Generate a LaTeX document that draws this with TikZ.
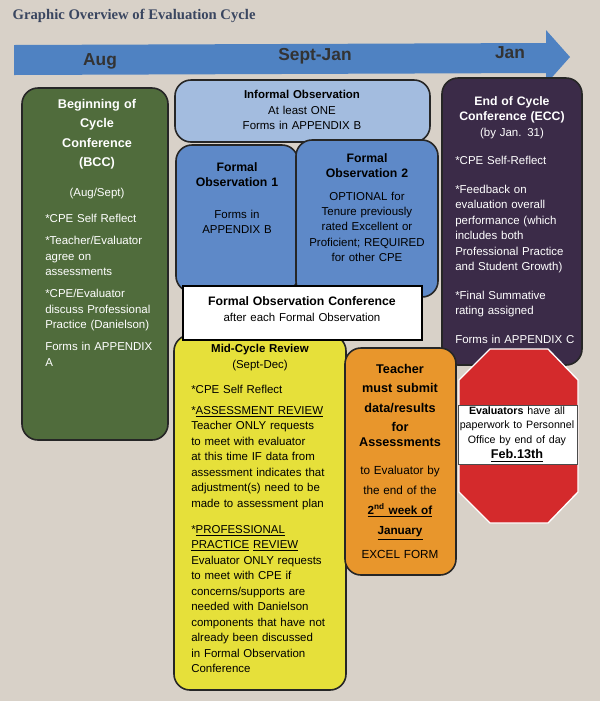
\documentclass[tikz,border=0pt]{standalone}
\usepackage{fontspec}
\setmainfont{Liberation Sans}
\newfontfamily\titlefont{Liberation Serif}
\usetikzlibrary{shapes.geometric}
\hyphenpenalty=10000 \exhyphenpenalty=10000
\definecolor{bg}{HTML}{D8D1C8}
\definecolor{arrowc}{HTML}{4F82C2}
\definecolor{bccg}{HTML}{506C3C}
\definecolor{infb}{HTML}{A3BCDF}
\definecolor{formb}{HTML}{5E89C8}
\definecolor{eccp}{HTML}{3B2B48}
\definecolor{midy}{HTML}{E6E03A}
\definecolor{orng}{HTML}{E8962C}
\definecolor{stopr}{HTML}{D42A2C}
\definecolor{titlec}{HTML}{3A4660}
\tikzset{
  box/.style={draw=black!85, line width=1.2pt, rounded corners=12pt},
  txt/.style={font=\fontsize{8.6}{11.6}\selectfont, align=left, text width=#1, inner sep=0pt},
  ctxt/.style={font=\fontsize{8.6}{11.6}\selectfont, align=center, text width=#1, inner sep=0pt},
}
\begin{document}
\begin{tikzpicture}[x=0.75pt,y=-0.75pt]
\fill[bg] (0,0) rectangle (600,701);
\useasboundingbox (0,0) rectangle (600,701);
\node[anchor=west, text=titlec, font=\titlefont\bfseries\fontsize{11}{13}\selectfont] (title) at (8,16) {Graphic Overview of Evaluation Cycle};
% arrow
\fill[arrowc] (14,45) -- (546,43) -- (546,30) -- (570,57) -- (546,84) -- (546,73) -- (14,75) -- cycle;
\node[font=\bfseries\fontsize{13}{15}\selectfont, text=black!80] (aug) at (100,61) {Aug};
\node[font=\bfseries\fontsize{13}{15}\selectfont, text=black!80] (sj) at (315,56) {Sept-Jan};
\node[font=\bfseries\fontsize{13}{15}\selectfont, text=black!80] (jan) at (510,53) {Jan};
% BCC
\draw[box, fill=bccg] (22,88) rectangle (168,440);
\node[ctxt=90pt, text=white, font=\bfseries\fontsize{9.5}{14.5}\selectfont, anchor=north] (bcct) at (97,99) {Beginning of\\Cycle\\Conference\\(BCC)};
\node[ctxt=90pt, text=white, anchor=north] (bccd) at (97,188) {(Aug/Sept)};
\node[txt=84pt, text=white, anchor=north west] (bccb) at (45,214) {*CPE Self Reflect\par\vspace{5pt}
*Teacher/Evaluator agree on assessments\par\vspace{5pt}
*CPE/Evaluator discuss Professional Practice (Danielson)\par\vspace{5pt}
Forms in APPENDIX A};
% Informal
\draw[box, fill=infb] (175,80) rectangle (430,142);
\node[ctxt=180pt, anchor=north] (inf) at (302,90) {\textbf{Informal Observation}\\At least ONE\\Forms in APPENDIX B};
% Formal 1
\draw[box, fill=formb] (176,145) rectangle (298,292);
\node[ctxt=85pt, anchor=north] (f1) at (237,162) {\textbf{\fontsize{9.2}{14}\selectfont Formal\\Observation 1}\\[12pt]Forms in\\APPENDIX B};
% Formal 2
\draw[box, fill=formb] (296,140) rectangle (438,297);
\node[ctxt=92pt, anchor=north] (f2) at (367,153) {\textbf{\fontsize{9.2}{13}\selectfont Formal\\Observation 2}\\[6pt]{\fontsize{8.6}{10.8}\selectfont OPTIONAL for\\Tenure previously rated Excellent or Proficient; REQUIRED for other CPE}};
% ECC
\draw[box, fill=eccp] (442,78) rectangle (582,365);
\node[ctxt=100pt, text=white, anchor=north] (ecct) at (512,96) {\textbf{\fontsize{9.2}{13.5}\selectfont End of Cycle\\Conference (ECC)}\\(by Jan. 31)};
\node[txt=92pt, text=white, anchor=north west] (eccb) at (455,156) {*CPE Self-Reflect\par\vspace{10pt}
*Feedback on evaluation overall performance (which includes both Professional Practice and Student Growth)\par\vspace{10pt}
*Final Summative rating assigned\par\vspace{10pt}
Forms in APPENDIX C};
% Mid-cycle
\draw[box, fill=midy] (174,335) rectangle (346,690);
\node[ctxt=120pt, anchor=north] (midt) at (260,344) {\textbf{Mid-Cycle Review}\\(Sept-Dec)};
\node[txt=113pt, anchor=north west] (midb) at (191,385) {*CPE Self Reflect\par\vspace{4pt}
*\underline{ASSESSMENT REVIEW}\\Teacher ONLY requests to meet with evaluator at this time IF data from assessment indicates that adjustment(s) need to be made to assessment plan\par\vspace{8pt}
*\underline{PROFESSIONAL}\\\underline{PRACTICE} \underline{REVIEW}\\Evaluator ONLY requests to meet with CPE if concerns/supports are needed with Danielson components that have not already been discussed in Formal Observation Conference};
% FOC
\draw[draw=black, line width=2pt, fill=white] (183,286) rectangle (422,340);
\node[ctxt=170pt, anchor=center] (foc) at (302,309) {\textbf{\fontsize{9.2}{13}\selectfont Formal Observation Conference}\\after each Formal Observation};
% orange
\draw[box, fill=orng] (345,348) rectangle (456,575);
\node[ctxt=80pt, anchor=north] (org) at (400,364) {\bfseries\fontsize{9.5}{14.5}\selectfont Teacher\\must submit\\data/results\\for\\Assessments};
\node[ctxt=80pt, anchor=north] (org2) at (400,466) {\fontsize{8.8}{15}\selectfont to Evaluator by\\the end of the\\\underline{\textbf{2\textsuperscript{nd} week of}}\\\underline{\textbf{January}}\\[6pt]EXCEL FORM};
% stop
\draw[fill=stopr, draw=white, line width=1pt] (490,349) -- (548,349) -- (578,380) -- (578,492) -- (548,523) -- (490,523) -- (459,492) -- (459,380) -- cycle;
\draw[fill=white, draw=black!70] (458,405) rectangle (577,464);
\node[ctxt=86pt] (stopt) at (517,434) {\fontsize{8}{11}\selectfont\textbf{Evaluators} have all paperwork to Personnel Office by end of day\\\underline{\textbf{\fontsize{9.5}{11.5}\selectfont Feb.13th}}};
\end{tikzpicture}
\end{document}
